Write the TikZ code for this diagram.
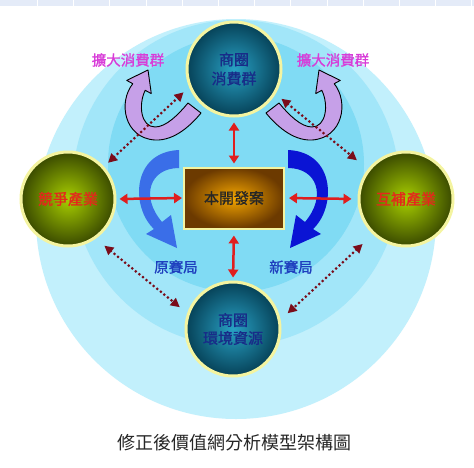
\documentclass[tikz,border=0pt]{standalone}
\usepackage{fontspec}
\newfontfamily\cjk{Noto Sans CJK TC}
\newfontfamily\cjkheavy[FakeBold=1.2]{Noto Sans CJK TC}
\usetikzlibrary{arrows.meta, positioning}
\definecolor{ringout}{RGB}{194,240,252}
\definecolor{ringmid}{RGB}{162,230,249}
\definecolor{ringin}{RGB}{128,219,244}
\definecolor{topband}{RGB}{228,235,248}
\definecolor{rim}{RGB}{244,244,160}
\definecolor{teallight}{RGB}{40,160,196}
\definecolor{tealdark}{RGB}{6,66,88}
\definecolor{olivelight}{RGB}{168,206,0}
\definecolor{olivedark}{RGB}{58,74,0}
\definecolor{orangelight}{RGB}{244,166,0}
\definecolor{orangedark}{RGB}{108,58,0}
\definecolor{navytext}{RGB}{24,44,136}
\definecolor{redtext}{RGB}{228,40,28}
\definecolor{magentatext}{RGB}{216,60,216}
\definecolor{bluetext}{RGB}{30,62,190}
\definecolor{redline}{RGB}{224,30,30}
\definecolor{maroon}{RGB}{122,12,26}
\definecolor{lilac}{RGB}{198,160,232}
\definecolor{swingleft}{RGB}{58,110,232}
\definecolor{swingright}{RGB}{10,20,212}
\tikzset{
    hub/.style={circle, minimum size=94pt, inner sep=0pt, line width=3pt, draw=rim, shading=radial, inner color=teallight, outer color=tealdark, align=center, text=navytext, font=\cjkheavy\fontsize{15}{19}\selectfont},
    industry/.style={hub, inner color=olivelight, outer color=olivedark, text=redtext},
    project/.style={rectangle, minimum width=100pt, minimum height=61pt, line width=2pt, draw=rim, shading=radial, inner color=orangelight, outer color=orangedark, text=black!85, font=\cjkheavy\fontsize{15}{18}\selectfont},
    tag/.style={font=\cjkheavy\fontsize{14.5}{16}\selectfont},
    linkarrow/.style={line width=2.5pt, redline, {Triangle[length=8pt,width=10pt]}-{Triangle[length=8pt,width=10pt]}},
    dotarrow/.style={line width=3pt, maroon, dash pattern=on 0pt off 4.6pt, line cap=round, {Triangle[length=9pt,width=9pt]}-{Triangle[length=9pt,width=9pt]}},
    curl/.style={fill=lilac, draw=black, line width=0.9pt, line join=round},
}
% curved block arrows (left side, mirrored for the right)
\newcommand{\curlpath}{(148,70) -- (126.7,80.4) -- (132.8,83.7) .. controls (118,102) and (124,138) .. (155,140) .. controls (175,141) and (192,124) .. (201,113) -- (188,103) .. controls (178,115) and (166,127) .. (155,127) .. controls (141,127) and (138,105) .. (145.2,90.3) -- (151.3,93.6) -- cycle}
\newcommand{\swingpath}{(179,150) -- (179,168) .. controls (150,168) and (140,196) .. (162,222) -- (171,215) -- (177,248) -- (146,234) -- (154,229) .. controls (131,208) and (131,152) .. (179,150) -- cycle}

\begin{document}
\begin{tikzpicture}[x=1pt, y=-1pt]
    \useasboundingbox (0,0) rectangle (474,467);
    \fill[white] (0,0) rectangle (474,467);

    % top strip
    \fill[topband] (0,0) rectangle (474,6);
    \foreach \i in {0,...,12}
        \draw[white, line width=1pt] (37.5+36.2*\i,0) -- ++(0,6);

    % background rings
    \fill[ringout] (236,219) circle (200pt);
    \fill[ringmid] (236,183) circle (163pt);
    \fill[ringin] (236,164) circle (128pt);

    % curved arrows
    \path[curl] \curlpath;
    \begin{scope}[shift={(467,0)}, xscale=-1]
        \path[curl] \curlpath;
    \end{scope}
    \fill[swingleft] \swingpath;
    \begin{scope}[shift={(467,0)}, xscale=-1]
        \fill[swingright] \swingpath;
    \end{scope}

    % nodes
    \node[hub] (consumer) at (234,69) {商圈\\消費群};
    \node[industry] (rival) at (68,199) {競爭產業};
    \node[industry] (partner) at (406,199) {互補產業};
    \node[hub, font=\cjkheavy\fontsize{15}{18}\selectfont] (resource) at (233,329) {商圈\\環境資源};
    \node[project] (project) at (234,198) {本開發案};

    % labels
    \node[tag, text=magentatext] (expandL) at (128,60) {擴大消費群};
    \node[tag, text=magentatext] (expandR) at (333,60) {擴大消費群};
    \node[tag, text=bluetext] (oldgame) at (176,267) {原賽局};
    \node[tag, text=bluetext] (newgame) at (291,267) {新賽局};
    \node[font=\cjk\fontsize{18}{20}\selectfont, text=black!85] (caption) at (234,443) {修正後價值網分析模型架構圖};

    % red links to the project
    \draw[linkarrow, shorten <=5pt, shorten >=3pt] (consumer.south) -- (project.north);
    \draw[linkarrow, shorten <=6pt, shorten >=3pt] (project.south) -- (resource.north);
    \draw[linkarrow, shorten <=3pt, shorten >=1pt] (rival.east) -- (project.west);
    \draw[linkarrow, shorten <=4pt, shorten >=6pt] (project.east) -- (partner.west);

    % dotted links round the ring
    \draw[dotarrow, shorten <=5.5pt, shorten >=7.5pt] (rival.42) -- (consumer.202);
    \draw[dotarrow, shorten <=7.5pt, shorten >=14pt] (consumer.329) -- (partner.142);
    \draw[dotarrow, shorten <=11pt, shorten >=9.5pt] (rival.305) -- (resource.161);
    \draw[dotarrow, shorten <=14pt, shorten >=9.5pt] (partner.227) -- (resource.11);
\end{tikzpicture}
\end{document}
